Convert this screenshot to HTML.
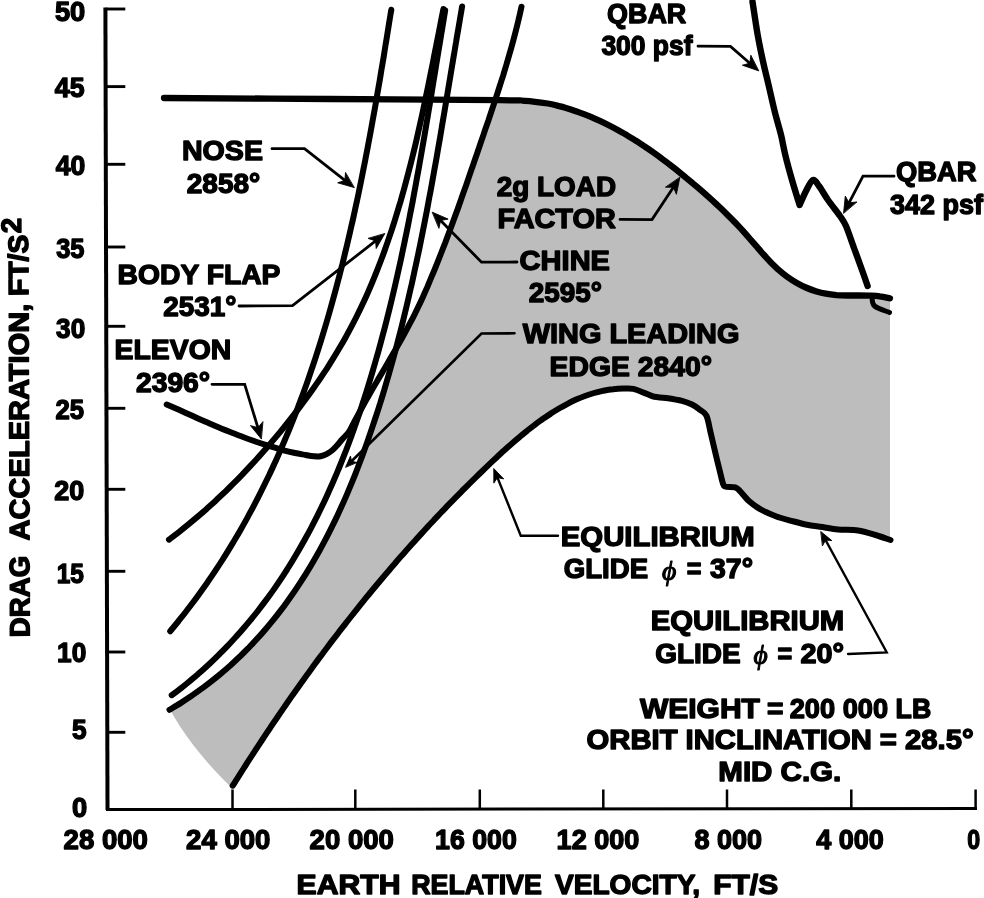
<!DOCTYPE html>
<html lang="en"><head><meta charset="utf-8"><title>Entry corridor: drag acceleration vs earth relative velocity</title>
<style>html,body{margin:0;padding:0;background:#fff}body{width:984px;height:898px;overflow:hidden}svg{display:block}</style>
</head><body>
<svg width="984" height="898" viewBox="0 0 984 898" role="img" aria-label="Entry corridor chart">
<rect width="984" height="898" fill="#fff"/>
<path d="M169.5 709.8L180.6 703.1L191.3 696.1L201.6 688.7L211.6 681.1L221.3 673.3L230.6 665.2L239.6 656.8L248.3 648.2L256.6 639.3L264.7 630.2L272.5 620.9L280.0 611.4L287.2 601.7L294.2 591.8L300.9 581.7L307.4 571.4L313.6 561.0L319.6 550.5L325.4 539.7L330.9 528.9L336.3 517.9L341.4 506.8L346.4 495.6L351.2 484.2L355.8 472.8L360.2 461.3L364.5 449.8L368.6 438.1L372.6 426.4L376.5 414.7L380.3 402.9L383.9 391.1L387.4 379.2L390.8 367.3L394.1 355.4L401.4 339.2L407.0 328.9L412.5 318.6L417.7 308.0L422.7 297.4L427.5 286.6L432.0 275.7L436.5 264.8L440.9 253.8L445.2 242.8L449.3 231.8L453.4 220.7L457.5 209.6L461.4 198.4L465.4 187.3L469.2 176.1L473.1 164.9L477.0 153.7L480.8 142.5L484.6 131.3L488.5 120.2L492.2 109.0L496.5 98.0L500.0 100.2L525.0 100.9L547.8 103.5L558.2 105.9L568.4 108.7L578.5 112.1L588.4 115.9L598.2 120.2L607.8 124.8L617.3 129.8L626.7 135.1L635.9 140.7L644.9 146.6L653.8 152.8L662.6 159.2L671.2 165.7L679.7 172.4L688.0 179.3L696.2 186.2L704.3 193.2L712.2 200.3L720.0 207.5L727.6 214.9L735.1 222.5L742.5 230.3L749.6 238.5L756.8 246.7L764.0 255.0L771.4 262.9L779.2 270.3L787.5 277.0L796.4 282.7L805.8 287.5L815.7 291.2L825.9 293.7L836.5 295.1L847.3 295.5L858.2 295.5L869.1 295.6L879.7 296.4L890.0 298.3L890.0 299.0L890.0 540.0L890.5 540.0L875.5 535.0L858.0 530.5L838.0 529.5L822.5 527.0L806.9 524.7L791.3 520.8L775.8 516.2L760.2 509.1L749.2 501.3L740.0 491.2L735.2 487.3L725.0 486.5L722.7 482.6L719.6 470.2L715.0 451.4L710.3 431.2L706.4 415.6L699.4 409.4L692.0 404.5L682.0 400.9L665.7 398.0L654.3 396.8L646.2 393.6L633.4 388.9L623.1 388.6L613.2 389.3L603.5 390.7L594.1 393.0L585.0 396.0L576.1 399.6L567.5 403.8L559.0 408.5L550.8 413.6L542.7 419.0L534.8 424.8L527.1 430.8L519.5 437.1L512.0 443.5L504.6 450.1L497.3 456.8L490.0 463.6L482.9 470.5L475.8 477.4L468.7 484.3L461.7 491.3L454.8 498.4L447.9 505.4L441.1 512.5L434.3 519.7L427.6 526.9L421.0 534.1L414.4 541.4L407.8 548.8L401.3 556.1L394.9 563.5L388.5 571.0L382.1 578.5L375.8 586.0L369.6 593.5L363.4 601.1L357.2 608.8L351.1 616.5L345.1 624.2L339.0 631.9L333.1 639.7L327.2 647.5L321.3 655.4L315.4 663.3L309.7 671.2L303.9 679.2L298.2 687.2L292.5 695.2L286.9 703.3L281.3 711.4L275.8 719.5L270.3 727.7L264.8 735.9L259.4 744.1L254.0 752.4L248.6 760.7L243.3 769.0L238.0 777.3L232.7 785.7L230.0 786.0L222.1 778.2L214.5 770.3L207.1 762.0L200.0 753.6L193.2 744.9L186.6 736.0L180.4 726.9L174.5 717.6L169.0 708.0Z" fill="#bdbdbd" stroke="none"/>
<g stroke="#000" fill="none" stroke-linecap="butt">
<path d="M105.4 7.5L107.5 810" stroke-width="4"/>
<path d="M106 809.6L977 808.4" stroke-width="3"/>
<path d="M106 9.0L125.3 9.0" stroke-width="2.9"/>
<path d="M106 86.6L125.3 86.6" stroke-width="2.9"/>
<path d="M106 164.3L125.3 164.3" stroke-width="2.9"/>
<path d="M106 247.0L125.3 247.0" stroke-width="2.9"/>
<path d="M106 326.3L125.3 326.3" stroke-width="2.9"/>
<path d="M106 408.3L125.3 408.3" stroke-width="2.9"/>
<path d="M106 489.3L125.3 489.3" stroke-width="2.9"/>
<path d="M106 571.3L125.3 571.3" stroke-width="2.9"/>
<path d="M106 652.0L125.3 652.0" stroke-width="2.9"/>
<path d="M106 732.3L125.3 732.3" stroke-width="2.9"/>
<path d="M232.5 789.5L232.5 809" stroke-width="2.5"/>
<path d="M355.3 789.5L355.3 809" stroke-width="2.5"/>
<path d="M479.8 789.5L479.8 809" stroke-width="2.5"/>
<path d="M603.3 789.5L603.3 809" stroke-width="2.5"/>
<path d="M727.0 789.5L727.0 809" stroke-width="2.5"/>
<path d="M851.3 789.5L851.3 809" stroke-width="2.5"/>
<path d="M975.6 789.5L975.6 809" stroke-width="2.5"/>
</g>
<g stroke="#000" fill="none" stroke-linecap="round" stroke-linejoin="round">
<path d="M170.2 631.2C171.6 629.6 175.6 624.7 178.2 621.5C180.8 618.2 183.4 615.0 185.9 611.7C188.5 608.4 191.0 605.1 193.5 601.8C196.0 598.5 198.4 595.1 200.8 591.8C203.2 588.4 205.6 585.0 208.0 581.6C210.3 578.2 212.6 574.8 214.9 571.4C217.2 567.9 219.5 564.5 221.7 561.0C223.9 557.5 226.1 554.1 228.2 550.6C230.4 547.1 232.5 543.5 234.6 540.0C236.7 536.5 238.8 532.9 240.8 529.4C242.9 525.8 244.9 522.2 246.9 518.6C248.8 515.0 250.8 511.4 252.7 507.8C254.6 504.1 256.5 500.5 258.4 496.8C260.3 493.2 262.1 489.5 263.9 485.8C265.7 482.2 267.5 478.5 269.3 474.8C271.0 471.0 272.8 467.3 274.5 463.6C276.2 459.8 277.9 456.1 279.5 452.3C281.2 448.6 282.8 444.8 284.4 441.0C286.0 437.2 287.6 433.4 289.2 429.6C290.7 425.8 292.3 422.0 293.8 418.2C295.3 414.3 296.8 410.5 298.2 406.7C299.7 402.8 301.2 398.9 302.6 395.1C304.0 391.2 305.4 387.3 306.8 383.4C308.1 379.6 309.5 375.7 310.8 371.7C312.2 367.8 313.5 363.9 314.8 360.0C316.1 356.1 317.3 352.1 318.6 348.2C319.9 344.3 321.1 340.3 322.3 336.4C323.5 332.4 324.7 328.4 325.9 324.5C327.1 320.5 328.2 316.5 329.4 312.5C330.5 308.6 331.6 304.6 332.7 300.6C333.8 296.6 334.9 292.6 336.0 288.6C337.1 284.6 338.1 280.6 339.2 276.6C340.2 272.5 341.2 268.5 342.3 264.5C343.3 260.5 344.3 256.4 345.2 252.4C346.2 248.4 347.2 244.3 348.1 240.3C349.1 236.3 350.0 232.2 350.9 228.2C351.9 224.1 352.8 220.1 353.7 216.0C354.6 212.0 355.4 207.9 356.3 203.9C357.2 199.8 358.1 195.8 358.9 191.7C359.7 187.6 360.6 183.6 361.4 179.5C362.2 175.5 363.0 171.4 363.8 167.3C364.7 163.3 365.4 159.2 366.2 155.2C367.0 151.1 367.8 147.0 368.5 143.0C369.3 138.9 370.1 134.8 370.8 130.8C371.6 126.7 372.3 122.7 373.0 118.6C373.8 114.6 374.5 110.5 375.2 106.5C375.9 102.4 376.6 98.3 377.3 94.3C378.0 90.3 378.7 86.2 379.4 82.2C380.1 78.1 380.8 74.1 381.4 70.0C382.1 66.0 382.8 62.0 383.5 57.9C384.1 53.9 384.8 49.9 385.4 45.9C386.1 41.9 386.8 37.8 387.4 33.8C388.0 29.8 388.7 25.8 389.3 21.8C390.0 17.8 390.9 11.8 391.3 9.8" stroke-width="6.0"/>
<path d="M169.0 539.6C170.6 538.3 175.4 534.7 178.6 532.3C181.8 529.8 184.9 527.3 188.1 524.7C191.2 522.1 194.3 519.5 197.4 516.9C200.5 514.3 203.6 511.6 206.6 508.9C209.6 506.2 212.7 503.5 215.7 500.7C218.6 497.9 221.6 495.1 224.6 492.3C227.5 489.4 230.4 486.6 233.3 483.7C236.2 480.8 239.1 477.8 242.0 474.9C244.8 471.9 247.6 468.9 250.4 465.9C253.2 462.9 256.0 459.9 258.8 456.8C261.5 453.7 264.2 450.6 267.0 447.5C269.7 444.4 272.3 441.3 275.0 438.1C277.6 435.0 280.3 431.8 282.9 428.6C285.5 425.4 288.1 422.1 290.6 418.9C293.2 415.7 295.7 412.4 298.2 409.1C300.7 405.8 303.2 402.5 305.6 399.2C308.0 395.9 310.5 392.5 312.8 389.2C315.2 385.8 317.5 382.4 319.9 379.0C322.2 375.6 324.4 372.2 326.7 368.8C328.9 365.3 331.1 361.8 333.2 358.4C335.4 354.9 337.5 351.4 339.6 347.8C341.7 344.3 343.7 340.8 345.7 337.2C347.7 333.6 349.6 330.0 351.5 326.4C353.4 322.8 355.3 319.2 357.1 315.5C358.9 311.9 360.7 308.2 362.4 304.5C364.1 300.9 365.8 297.2 367.5 293.4C369.1 289.7 370.7 286.0 372.3 282.2C373.9 278.5 375.4 274.7 376.9 270.9C378.4 267.1 379.9 263.3 381.3 259.5C382.8 255.7 384.2 251.9 385.5 248.0C386.9 244.2 388.2 240.3 389.5 236.4C390.9 232.6 392.1 228.7 393.4 224.8C394.6 220.9 395.8 217.0 397.0 213.1C398.2 209.2 399.4 205.2 400.6 201.3C401.7 197.4 402.8 193.4 403.9 189.5C405.0 185.5 406.1 181.6 407.1 177.6C408.2 173.6 409.2 169.6 410.2 165.7C411.2 161.7 412.2 157.7 413.2 153.7C414.2 149.7 415.1 145.7 416.1 141.7C417.0 137.7 417.9 133.7 418.8 129.7C419.7 125.6 420.6 121.6 421.5 117.6C422.4 113.6 423.2 109.5 424.1 105.5C425.0 101.5 425.8 97.5 426.6 93.4C427.5 89.4 428.3 85.4 429.1 81.3C429.9 77.3 430.7 73.3 431.5 69.3C432.4 65.2 433.2 61.2 433.9 57.2C434.7 53.1 435.5 49.1 436.3 45.1C437.1 41.1 437.9 37.1 438.7 33.0C439.5 29.0 440.3 25.0 441.0 21.0C441.8 17.0 443.0 11.0 443.4 9.0" stroke-width="6.0"/>
<path d="M171.7 695.2C173.4 694.0 178.5 690.2 181.8 687.6C185.1 685.0 188.3 682.3 191.5 679.7C194.7 677.0 197.9 674.3 201.0 671.5C204.1 668.8 207.1 666.0 210.1 663.2C213.1 660.4 216.1 657.5 219.0 654.6C221.9 651.8 224.8 648.8 227.6 645.9C230.4 642.9 233.2 640.0 235.9 636.9C238.7 633.9 241.4 630.9 244.0 627.8C246.6 624.7 249.2 621.6 251.8 618.5C254.3 615.4 256.9 612.2 259.3 609.0C261.8 605.8 264.2 602.6 266.6 599.4C269.0 596.1 271.4 592.9 273.7 589.6C276.0 586.3 278.3 582.9 280.5 579.6C282.7 576.2 284.9 572.9 287.1 569.5C289.2 566.1 291.4 562.6 293.4 559.2C295.5 555.8 297.6 552.3 299.6 548.8C301.6 545.3 303.6 541.8 305.5 538.3C307.5 534.7 309.4 531.2 311.3 527.6C313.1 524.0 315.0 520.4 316.8 516.8C318.6 513.2 320.4 509.6 322.1 505.9C323.9 502.3 325.6 498.6 327.3 494.9C329.0 491.2 330.6 487.5 332.3 483.8C333.9 480.1 335.5 476.4 337.1 472.6C338.6 468.9 340.2 465.1 341.7 461.4C343.2 457.6 344.7 453.8 346.2 450.0C347.6 446.2 349.1 442.4 350.5 438.5C351.9 434.7 353.3 430.9 354.6 427.0C356.0 423.2 357.3 419.3 358.7 415.5C360.0 411.6 361.3 407.7 362.5 403.8C363.8 399.9 365.1 396.0 366.3 392.1C367.5 388.2 368.7 384.3 369.9 380.4C371.1 376.5 372.3 372.6 373.4 368.6C374.6 364.7 375.7 360.8 376.8 356.8C378.0 352.9 379.1 349.0 380.1 345.0C381.2 341.0 382.3 337.1 383.3 333.1C384.4 329.2 385.4 325.2 386.4 321.2C387.4 317.3 388.4 313.3 389.4 309.3C390.4 305.3 391.3 301.4 392.3 297.4C393.2 293.4 394.2 289.4 395.1 285.4C396.0 281.4 396.9 277.4 397.8 273.4C398.7 269.4 399.6 265.4 400.5 261.4C401.3 257.4 402.2 253.4 403.0 249.4C403.9 245.4 404.7 241.4 405.5 237.4C406.4 233.4 407.2 229.4 408.0 225.4C408.8 221.4 409.6 217.4 410.3 213.3C411.1 209.3 411.9 205.3 412.7 201.3C413.4 197.3 414.2 193.3 414.9 189.3C415.7 185.3 416.4 181.2 417.1 177.2C417.9 173.2 418.6 169.2 419.3 165.2C420.0 161.2 420.7 157.2 421.4 153.2C422.1 149.2 422.8 145.2 423.5 141.2C424.2 137.2 424.9 133.1 425.6 129.1C426.2 125.1 426.9 121.2 427.6 117.2C428.2 113.2 428.9 109.2 429.6 105.2C430.2 101.2 430.9 97.2 431.6 93.2C432.2 89.2 432.9 85.3 433.5 81.3C434.2 77.3 434.8 73.3 435.5 69.4C436.1 65.4 436.8 61.4 437.4 57.5C438.1 53.5 438.7 49.6 439.4 45.6C440.0 41.7 440.7 37.7 441.3 33.8C442.0 29.9 442.6 25.9 443.3 22.0C443.9 18.1 444.9 12.2 445.2 10.3" stroke-width="6.0"/>
<path d="M169.5 709.8C171.3 708.7 176.9 705.4 180.6 703.1C184.2 700.8 187.7 698.5 191.3 696.1C194.8 693.7 198.2 691.2 201.6 688.7C205.0 686.3 208.3 683.7 211.6 681.1C214.9 678.6 218.1 675.9 221.3 673.3C224.4 670.6 227.5 667.9 230.6 665.2C233.6 662.4 236.6 659.6 239.6 656.8C242.5 653.9 245.4 651.1 248.3 648.2C251.1 645.2 253.9 642.3 256.6 639.3C259.4 636.3 262.1 633.3 264.7 630.2C267.4 627.1 270.0 624.0 272.5 620.9C275.1 617.8 277.6 614.6 280.0 611.4C282.5 608.2 284.9 605.0 287.2 601.7C289.6 598.4 291.9 595.1 294.2 591.8C296.5 588.5 298.7 585.1 300.9 581.7C303.1 578.3 305.3 574.9 307.4 571.4C309.5 568.0 311.6 564.5 313.6 561.0C315.6 557.5 317.6 554.0 319.6 550.5C321.6 546.9 323.5 543.3 325.4 539.7C327.3 536.1 329.1 532.5 330.9 528.9C332.7 525.2 334.5 521.6 336.3 517.9C338.0 514.2 339.7 510.5 341.4 506.8C343.1 503.1 344.8 499.3 346.4 495.6C348.0 491.8 349.6 488.0 351.2 484.2C352.7 480.5 354.3 476.7 355.8 472.8C357.3 469.0 358.8 465.2 360.2 461.3C361.7 457.5 363.1 453.6 364.5 449.8C365.9 445.9 367.3 442.0 368.6 438.1C370.0 434.2 371.3 430.3 372.6 426.4C373.9 422.5 375.2 418.6 376.5 414.7C377.8 410.8 379.0 406.8 380.3 402.9C381.5 399.0 382.7 395.0 383.9 391.1C385.1 387.1 386.2 383.2 387.4 379.2C388.5 375.3 389.7 371.3 390.8 367.3C391.9 363.3 393.0 359.4 394.1 355.4C395.2 351.4 396.2 347.4 397.3 343.4C398.3 339.4 399.4 335.4 400.4 331.5C401.4 327.5 402.4 323.4 403.4 319.4C404.4 315.4 405.3 311.4 406.3 307.4C407.2 303.4 408.2 299.4 409.1 295.4C410.0 291.3 411.0 287.3 411.9 283.3C412.8 279.3 413.7 275.2 414.5 271.2C415.4 267.2 416.3 263.1 417.1 259.1C418.0 255.1 418.8 251.0 419.7 247.0C420.5 243.0 421.3 238.9 422.1 234.9C422.9 230.9 423.7 226.8 424.5 222.8C425.3 218.7 426.1 214.7 426.9 210.6C427.6 206.6 428.4 202.6 429.1 198.5C429.9 194.5 430.7 190.4 431.4 186.4C432.1 182.4 432.9 178.3 433.6 174.3C434.3 170.2 435.0 166.2 435.8 162.2C436.5 158.1 437.2 154.1 437.9 150.1C438.6 146.0 439.3 142.0 440.0 138.0C440.7 134.0 441.4 129.9 442.0 125.9C442.7 121.9 443.4 117.9 444.1 113.8C444.8 109.8 445.4 105.8 446.1 101.8C446.8 97.8 447.4 93.8 448.1 89.8C448.8 85.8 449.4 81.8 450.1 77.8C450.8 73.8 451.4 69.8 452.1 65.8C452.8 61.8 453.4 57.8 454.1 53.9C454.8 49.9 455.4 45.9 456.1 42.0C456.7 38.0 457.4 34.0 458.1 30.1C458.8 26.1 459.4 22.2 460.1 18.2C460.8 14.3 461.8 8.4 462.1 6.4" stroke-width="6.0"/>
<path d="M166.7 404.5C168.8 405.4 175.2 408.2 179.5 410.1C183.7 412.0 188.0 413.9 192.2 415.8C196.5 417.7 200.7 419.6 205.0 421.5C209.2 423.3 213.5 425.2 217.8 427.0C222.1 428.8 226.4 430.6 230.7 432.3C235.0 434.0 239.3 435.7 243.7 437.3C248.1 439.0 252.4 440.5 256.8 442.0C261.2 443.5 265.7 444.9 270.1 446.2C274.6 447.6 279.5 449.2 283.6 450.3C287.7 451.4 291.3 452.2 295.0 453.0C298.7 453.8 302.7 454.4 305.9 455.0C309.1 455.6 311.6 456.1 314.0 456.3C316.4 456.5 318.4 456.7 320.5 456.3C322.6 455.9 324.6 455.2 326.5 454.2C328.4 453.2 330.2 451.9 332.0 450.5C333.8 449.1 335.3 447.3 337.0 445.5C338.7 443.7 340.0 441.8 342.0 439.5C344.0 437.2 347.0 434.7 349.1 431.6C351.2 428.5 352.8 424.6 354.6 421.1C356.5 417.6 358.4 414.1 360.3 410.7C362.2 407.2 364.1 403.8 366.0 400.4C368.0 396.9 369.9 393.5 371.9 390.1C373.9 386.7 375.9 383.3 377.8 379.9C379.8 376.5 381.8 373.2 383.8 369.8C385.8 366.4 387.7 363.0 389.7 359.6C391.7 356.2 393.6 352.8 395.6 349.4C397.5 346.0 399.5 342.6 401.4 339.2C403.3 335.8 405.2 332.4 407.0 328.9C408.9 325.5 410.7 322.0 412.5 318.6C414.3 315.1 416.0 311.6 417.7 308.0C419.4 304.5 421.1 300.9 422.7 297.4C424.3 293.8 425.9 290.2 427.5 286.6C429.0 283.0 430.5 279.3 432.0 275.7C433.6 272.1 435.1 268.4 436.5 264.8C438.0 261.1 439.5 257.5 440.9 253.8C442.3 250.2 443.7 246.5 445.2 242.8C446.6 239.1 448.0 235.5 449.3 231.8C450.7 228.1 452.1 224.4 453.4 220.7C454.8 217.0 456.1 213.3 457.5 209.6C458.8 205.8 460.1 202.1 461.4 198.4C462.7 194.7 464.1 191.0 465.4 187.3C466.7 183.5 468.0 179.8 469.2 176.1C470.5 172.4 471.8 168.6 473.1 164.9C474.4 161.2 475.7 157.4 477.0 153.7C478.2 150.0 479.5 146.3 480.8 142.5C482.1 138.8 483.4 135.1 484.6 131.3C485.9 127.6 487.2 123.9 488.5 120.2C489.7 116.4 491.0 112.7 492.2 109.0C493.5 105.2 494.7 101.5 496.0 97.7C497.2 94.0 498.4 90.3 499.6 86.5C500.8 82.8 502.0 79.0 503.2 75.3C504.3 71.5 505.5 67.7 506.6 64.0C507.7 60.2 508.9 56.4 509.9 52.6C511.0 48.8 512.1 45.0 513.1 41.2C514.1 37.4 515.1 33.6 516.1 29.8C517.1 26.0 518.0 22.1 518.9 18.3C519.8 14.4 521.1 8.6 521.5 6.7" stroke-width="6.0"/>
<path d="M164.0 98.0C191.7 98.2 274.0 98.6 330.0 99.0C386.0 99.4 467.5 99.9 500.0 100.2C532.5 100.5 517.0 100.4 525.0 100.9C533.0 101.4 542.3 102.7 547.8 103.5C553.3 104.3 554.8 105.0 558.2 105.9C561.6 106.7 565.0 107.7 568.4 108.7C571.8 109.8 575.2 110.9 578.5 112.1C581.8 113.3 585.1 114.6 588.4 115.9C591.7 117.3 595.0 118.7 598.2 120.2C601.4 121.6 604.7 123.2 607.8 124.8C611.0 126.4 614.2 128.1 617.3 129.8C620.5 131.5 623.6 133.3 626.7 135.1C629.8 136.9 632.8 138.8 635.9 140.7C638.9 142.7 641.9 144.6 644.9 146.6C647.9 148.7 650.9 150.7 653.8 152.8C656.8 154.9 659.7 157.0 662.6 159.2C665.5 161.3 668.4 163.5 671.2 165.7C674.1 167.9 676.9 170.2 679.7 172.4C682.5 174.7 685.3 177.0 688.0 179.3C690.8 181.6 693.5 183.9 696.2 186.2C698.9 188.5 701.6 190.9 704.3 193.2C707.0 195.6 709.6 197.9 712.2 200.3C714.8 202.7 717.4 205.1 720.0 207.5C722.6 210.0 725.1 212.4 727.6 214.9C730.2 217.4 732.7 219.9 735.1 222.5C737.6 225.1 740.0 227.7 742.5 230.3C744.9 233.0 747.3 235.7 749.6 238.5C752.0 241.2 754.4 244.0 756.8 246.7C759.2 249.5 761.5 252.3 764.0 255.0C766.4 257.7 768.9 260.4 771.4 262.9C774.0 265.5 776.5 268.0 779.2 270.3C781.9 272.7 784.7 274.9 787.5 277.0C790.4 279.1 793.4 281.0 796.4 282.7C799.5 284.5 802.6 286.1 805.8 287.5C809.0 288.9 812.3 290.1 815.7 291.2C819.0 292.2 822.4 293.1 825.9 293.7C829.4 294.4 832.9 294.8 836.5 295.1C840.1 295.3 843.7 295.4 847.3 295.5C850.9 295.5 854.6 295.5 858.2 295.5C861.8 295.5 865.5 295.5 869.1 295.6C872.6 295.8 876.2 295.9 879.7 296.4C883.2 296.8 888.3 298.0 890.0 298.3" stroke-width="6.3"/>
<path d="M872.0 297.5C872.4 298.9 871.6 303.5 874.5 306.0C877.4 308.5 887.0 311.4 889.5 312.5" stroke-width="5"/>
<path d="M752.5 1.7C753.4 7.2 755.9 24.7 757.6 34.5C759.3 44.3 760.9 51.9 762.8 60.5C764.7 69.2 766.9 77.8 768.9 86.4C770.9 95.0 772.9 104.2 774.9 112.3C776.9 120.4 779.3 127.7 781.0 134.8C782.7 141.9 783.5 147.5 785.3 155.0C787.1 162.5 789.6 171.7 792.0 180.0C794.4 188.3 798.3 200.8 799.6 205.0C800.7 202.7 803.8 195.2 806.0 191.0C808.2 186.8 810.8 180.8 813.0 180.0C815.2 179.2 816.5 182.7 819.0 186.0C821.5 189.3 824.5 195.0 828.0 200.0C831.5 205.0 837.0 211.7 840.0 216.0C843.0 220.3 843.7 220.7 846.0 226.0C848.3 231.3 851.3 240.7 854.0 248.0C856.7 255.3 859.7 263.7 862.0 270.0C864.3 276.3 866.7 283.3 867.6 286.0" stroke-width="6.4"/>
<path d="M232.7 785.7C233.6 784.3 236.2 780.1 238.0 777.3C239.8 774.5 241.5 771.8 243.3 769.0C245.1 766.2 246.8 763.4 248.6 760.7C250.4 757.9 252.2 755.1 254.0 752.4C255.8 749.6 257.6 746.8 259.4 744.1C261.2 741.4 263.0 738.6 264.8 735.9C266.6 733.1 268.4 730.4 270.3 727.7C272.1 724.9 273.9 722.2 275.8 719.5C277.6 716.8 279.5 714.1 281.3 711.4C283.2 708.7 285.0 706.0 286.9 703.3C288.8 700.6 290.7 697.9 292.5 695.2C294.4 692.5 296.3 689.9 298.2 687.2C300.1 684.5 302.0 681.8 303.9 679.2C305.8 676.5 307.7 673.9 309.7 671.2C311.6 668.6 313.5 665.9 315.4 663.3C317.4 660.6 319.3 658.0 321.3 655.4C323.2 652.8 325.2 650.1 327.2 647.5C329.1 644.9 331.1 642.3 333.1 639.7C335.1 637.1 337.1 634.5 339.0 631.9C341.0 629.3 343.0 626.7 345.1 624.2C347.1 621.6 349.1 619.0 351.1 616.5C353.1 613.9 355.2 611.3 357.2 608.8C359.3 606.2 361.3 603.7 363.4 601.1C365.4 598.6 367.5 596.1 369.6 593.5C371.6 591.0 373.7 588.5 375.8 586.0C377.9 583.5 380.0 581.0 382.1 578.5C384.2 576.0 386.3 573.5 388.5 571.0C390.6 568.5 392.7 566.0 394.9 563.5C397.0 561.0 399.1 558.6 401.3 556.1C403.5 553.7 405.6 551.2 407.8 548.8C410.0 546.3 412.2 543.9 414.4 541.4C416.5 539.0 418.7 536.6 421.0 534.1C423.2 531.7 425.4 529.3 427.6 526.9C429.8 524.5 432.1 522.1 434.3 519.7C436.6 517.3 438.8 514.9 441.1 512.5C443.4 510.2 445.6 507.8 447.9 505.4C450.2 503.1 452.5 500.7 454.8 498.4C457.1 496.0 459.4 493.7 461.7 491.3C464.0 489.0 466.4 486.7 468.7 484.3C471.1 482.0 473.4 479.7 475.8 477.4C478.1 475.1 480.5 472.8 482.9 470.5C485.2 468.2 487.6 465.9 490.0 463.6C492.4 461.4 494.8 459.1 497.3 456.8C499.7 454.6 502.1 452.3 504.6 450.1C507.0 447.9 509.5 445.7 512.0 443.5C514.4 441.3 516.9 439.2 519.5 437.1C522.0 434.9 524.5 432.9 527.1 430.8C529.6 428.8 532.2 426.7 534.8 424.8C537.4 422.8 540.1 420.9 542.7 419.0C545.4 417.2 548.1 415.3 550.8 413.6C553.5 411.8 556.3 410.1 559.0 408.5C561.8 406.9 564.6 405.3 567.5 403.8C570.3 402.3 573.2 400.9 576.1 399.6C579.1 398.3 582.0 397.1 585.0 396.0C588.0 394.9 591.1 393.9 594.1 393.0C597.2 392.1 600.4 391.4 603.5 390.7C606.7 390.1 609.9 389.6 613.2 389.3C616.5 388.9 619.8 388.7 623.1 388.6C626.5 388.6 629.6 388.1 633.4 388.9C637.2 389.7 642.7 392.3 646.2 393.6C649.7 394.9 651.0 396.1 654.3 396.8C657.5 397.5 661.1 397.3 665.7 398.0C670.3 398.7 677.6 399.8 682.0 400.9C686.4 402.0 689.1 403.1 692.0 404.5C694.9 405.9 697.0 407.5 699.4 409.4C701.8 411.2 704.6 412.0 706.4 415.6C708.2 419.2 708.9 425.2 710.3 431.2C711.7 437.2 713.5 444.9 715.0 451.4C716.5 457.9 718.3 465.0 719.6 470.2C720.9 475.4 721.8 479.9 722.7 482.6C723.6 485.3 722.9 485.7 725.0 486.5C727.1 487.3 732.7 486.5 735.2 487.3C737.7 488.1 737.7 488.9 740.0 491.2C742.3 493.5 745.8 498.3 749.2 501.3C752.6 504.3 755.8 506.6 760.2 509.1C764.6 511.6 770.6 514.2 775.8 516.2C781.0 518.2 786.1 519.4 791.3 520.8C796.5 522.2 801.7 523.7 806.9 524.7C812.1 525.7 817.3 526.2 822.5 527.0C827.7 527.8 832.1 528.9 838.0 529.5C843.9 530.1 851.8 529.6 858.0 530.5C864.2 531.4 870.1 533.4 875.5 535.0C880.9 536.6 888.0 539.2 890.5 540.0" stroke-width="6"/>
</g>
<g stroke="#000" stroke-linecap="round" stroke-linejoin="miter">
<path d="M272.0 148.7L304.5 148.7L344.9 180.4" stroke-width="2.8" fill="none"/><path d="M354.0 187.5L337.7 182.8L344.9 180.4L345.5 172.8Z" fill="#000" stroke-width="0.9" stroke-linejoin="round"/>
<path d="M239.0 306.0L292.5 305.7L375.6 240.9" stroke-width="2.8" fill="none"/><path d="M384.7 233.8L376.2 248.5L375.6 240.9L368.4 238.5Z" fill="#000" stroke-width="0.9" stroke-linejoin="round"/>
<path d="M212.0 384.3L244.7 384.3L257.9 427.7" stroke-width="2.8" fill="none"/><path d="M261.2 438.8L250.5 425.6L257.9 427.7L262.7 421.9Z" fill="#000" stroke-width="0.9" stroke-linejoin="round"/>
<path d="M698.0 46.2L730.5 46.4L749.8 63.2" stroke-width="2.8" fill="none"/><path d="M758.5 70.8L742.4 65.2L749.8 63.2L750.8 55.6Z" fill="#000" stroke-width="0.9" stroke-linejoin="round"/>
<path d="M894.0 176.2L863.0 176.2L849.0 202.8" stroke-width="2.8" fill="none"/><path d="M843.6 213.0L845.3 196.1L849.0 202.8L856.6 202.0Z" fill="#000" stroke-width="0.9" stroke-linejoin="round"/>
<path d="M620.0 219.4L652.0 219.6L673.4 187.2" stroke-width="2.8" fill="none"/><path d="M679.8 177.6L676.4 194.3L673.4 187.2L665.8 187.2Z" fill="#000" stroke-width="0.9" stroke-linejoin="round"/>
<path d="M517.0 262.0L481.5 262.2L440.6 220.5" stroke-width="2.8" fill="none"/><path d="M432.5 212.3L448.1 219.1L440.6 220.5L439.0 228.0Z" fill="#000" stroke-width="0.9" stroke-linejoin="round"/>
<path d="M514.5 333.3L481.5 333.5L351.5 461.3" stroke-width="2.6" fill="none"/><path d="M345.7 467.0L350.5 456.0L351.5 461.3L356.8 462.4Z" fill="#000" stroke-width="0.9" stroke-linejoin="round"/>
<path d="M558.0 535.8L520.8 535.8L497.5 477.6" stroke-width="2.4" fill="none"/><path d="M494.0 468.8L503.7 478.9L497.5 477.6L494.0 482.8Z" fill="#000" stroke-width="0.9" stroke-linejoin="round"/>
<path d="M848.0 654.0L886.8 652.5L825.6 540.1" stroke-width="2.3" fill="none"/><path d="M821.0 531.7L831.8 540.6L825.6 540.1L822.6 545.6Z" fill="#000" stroke-width="0.9" stroke-linejoin="round"/>
</g>
<g font-family="'Liberation Sans', sans-serif" font-weight="700" font-size="28" fill="#000" stroke="#000" stroke-width="1.4" stroke-linejoin="round">
<text x="54.9" y="20.5" textLength="30.4" lengthAdjust="spacingAndGlyphs">50</text>
<text x="54.8" y="96.5" textLength="29.7" lengthAdjust="spacingAndGlyphs">45</text>
<text x="55.8" y="175.0" textLength="29.5" lengthAdjust="spacingAndGlyphs">40</text>
<text x="56.2" y="258.0" textLength="28.3" lengthAdjust="spacingAndGlyphs">35</text>
<text x="56.1" y="337.5" textLength="29.1" lengthAdjust="spacingAndGlyphs">30</text>
<text x="55.4" y="418.5" textLength="28.6" lengthAdjust="spacingAndGlyphs">25</text>
<text x="54.3" y="499.5" textLength="30.0" lengthAdjust="spacingAndGlyphs">20</text>
<text x="56.7" y="583.0" textLength="27.2" lengthAdjust="spacingAndGlyphs">15</text>
<text x="57.1" y="661.5" textLength="29.2" lengthAdjust="spacingAndGlyphs">10</text>
<text x="72.0" y="738.5" textLength="14.6" lengthAdjust="spacingAndGlyphs">5</text>
<text x="72.1" y="816.5" textLength="15.2" lengthAdjust="spacingAndGlyphs">0</text>
<text x="63.6" y="849.0" textLength="84.3" lengthAdjust="spacingAndGlyphs">28 000</text>
<text x="186.1" y="849.0" textLength="84.3" lengthAdjust="spacingAndGlyphs">24 000</text>
<text x="309.6" y="849.0" textLength="84.3" lengthAdjust="spacingAndGlyphs">20 000</text>
<text x="435.1" y="849.0" textLength="81.7" lengthAdjust="spacingAndGlyphs">16 000</text>
<text x="556.6" y="849.0" textLength="82.7" lengthAdjust="spacingAndGlyphs">12 000</text>
<text x="694.4" y="849.0" textLength="67.7" lengthAdjust="spacingAndGlyphs">8 000</text>
<text x="816.3" y="849.0" textLength="67.5" lengthAdjust="spacingAndGlyphs">4 000</text>
<text x="967.3" y="849.0" textLength="12.9" lengthAdjust="spacingAndGlyphs">0</text>
<text x="296.6" y="894.3" textLength="103.9" lengthAdjust="spacingAndGlyphs">EARTH</text>
<text x="411.2" y="894.3" textLength="130.7" lengthAdjust="spacingAndGlyphs">RELATIVE</text>
<text x="555.0" y="894.3" textLength="145.1" lengthAdjust="spacingAndGlyphs">VELOCITY,</text>
<text x="713.3" y="894.3" textLength="64.8" lengthAdjust="spacingAndGlyphs">FT/S</text>
<text x="181.9" y="159.8" textLength="81.1" lengthAdjust="spacingAndGlyphs">NOSE</text>
<text x="186.8" y="192.8" textLength="73.4" lengthAdjust="spacingAndGlyphs">2858°</text>
<text x="117.6" y="284.3" textLength="162.9" lengthAdjust="spacingAndGlyphs">BODY FLAP</text>
<text x="163.3" y="316.3" textLength="73.2" lengthAdjust="spacingAndGlyphs">2531°</text>
<text x="114.6" y="359.3" textLength="116.6" lengthAdjust="spacingAndGlyphs">ELEVON</text>
<text x="136.0" y="392.0" textLength="74.1" lengthAdjust="spacingAndGlyphs">2396°</text>
<text x="607.1" y="22.6" textLength="79.2" lengthAdjust="spacingAndGlyphs">QBAR</text>
<text x="601.4" y="55.0" textLength="91.1" lengthAdjust="spacingAndGlyphs">300 psf</text>
<text x="896.1" y="181.4" textLength="80.5" lengthAdjust="spacingAndGlyphs">QBAR</text>
<text x="890.1" y="214.0" textLength="92.9" lengthAdjust="spacingAndGlyphs">342 psf</text>
<text x="496.8" y="196.0" textLength="119.3" lengthAdjust="spacingAndGlyphs">2g LOAD</text>
<text x="497.6" y="227.9" textLength="118.2" lengthAdjust="spacingAndGlyphs">FACTOR</text>
<text x="519.6" y="270.0" textLength="90.4" lengthAdjust="spacingAndGlyphs">CHINE</text>
<text x="528.8" y="302.0" textLength="73.2" lengthAdjust="spacingAndGlyphs">2595°</text>
<text x="522.7" y="343.0" textLength="216.8" lengthAdjust="spacingAndGlyphs">WING LEADING</text>
<text x="549.6" y="376.3" textLength="162.4" lengthAdjust="spacingAndGlyphs">EDGE 2840°</text>
<text x="560.8" y="546.0" textLength="193.9" lengthAdjust="spacingAndGlyphs">EQUILIBRIUM</text>
<text x="563.8" y="578.0" textLength="84.3" lengthAdjust="spacingAndGlyphs">GLIDE</text>
<text x="662.0" y="579.5" font-family="'Liberation Serif', serif" font-style="italic" font-weight="400" font-size="28" stroke-width="1.1" textLength="14.3" lengthAdjust="spacingAndGlyphs">ϕ</text>
<text x="686.7" y="578.0" textLength="14.7" lengthAdjust="spacingAndGlyphs">=</text>
<text x="710.1" y="578.0" textLength="42.9" lengthAdjust="spacingAndGlyphs">37°</text>
<text x="650.8" y="630.0" textLength="193.4" lengthAdjust="spacingAndGlyphs">EQUILIBRIUM</text>
<text x="655.3" y="662.5" textLength="85.4" lengthAdjust="spacingAndGlyphs">GLIDE</text>
<text x="753.5" y="664.0" font-family="'Liberation Serif', serif" font-style="italic" font-weight="400" font-size="28" stroke-width="1.1" textLength="14.2" lengthAdjust="spacingAndGlyphs">ϕ</text>
<text x="777.4" y="662.5" textLength="14.7" lengthAdjust="spacingAndGlyphs">=</text>
<text x="800.6" y="662.5" textLength="43.5" lengthAdjust="spacingAndGlyphs">20°</text>
<text x="639.9" y="717.5" textLength="120.0" lengthAdjust="spacingAndGlyphs">WEIGHT</text>
<text x="766.9" y="717.5" textLength="16.4" lengthAdjust="spacingAndGlyphs">=</text>
<text x="789.7" y="717.5" textLength="98.4" lengthAdjust="spacingAndGlyphs">200 000</text>
<text x="895.6" y="717.5" textLength="35.6" lengthAdjust="spacingAndGlyphs">LB</text>
<text x="586.6" y="748.5" textLength="387.0" lengthAdjust="spacingAndGlyphs">ORBIT INCLINATION = 28.5°</text>
<text x="718.3" y="781.0" textLength="123.0" lengthAdjust="spacingAndGlyphs">MID C.G.</text>
<g transform="translate(29.6 637.2) rotate(-90.23)">
<text x="0.0" y="0.0" textLength="81.4" lengthAdjust="spacingAndGlyphs">DRAG</text>
<text x="96.8" y="0.0" textLength="236.7" lengthAdjust="spacingAndGlyphs">ACCELERATION,</text>
<text x="341.2" y="0.0" textLength="61.4" lengthAdjust="spacingAndGlyphs">FT/S</text>
<text x="403.9" y="-6.9" textLength="15.4" lengthAdjust="spacingAndGlyphs">2</text>
</g>
</g>
</svg>
</body></html>
